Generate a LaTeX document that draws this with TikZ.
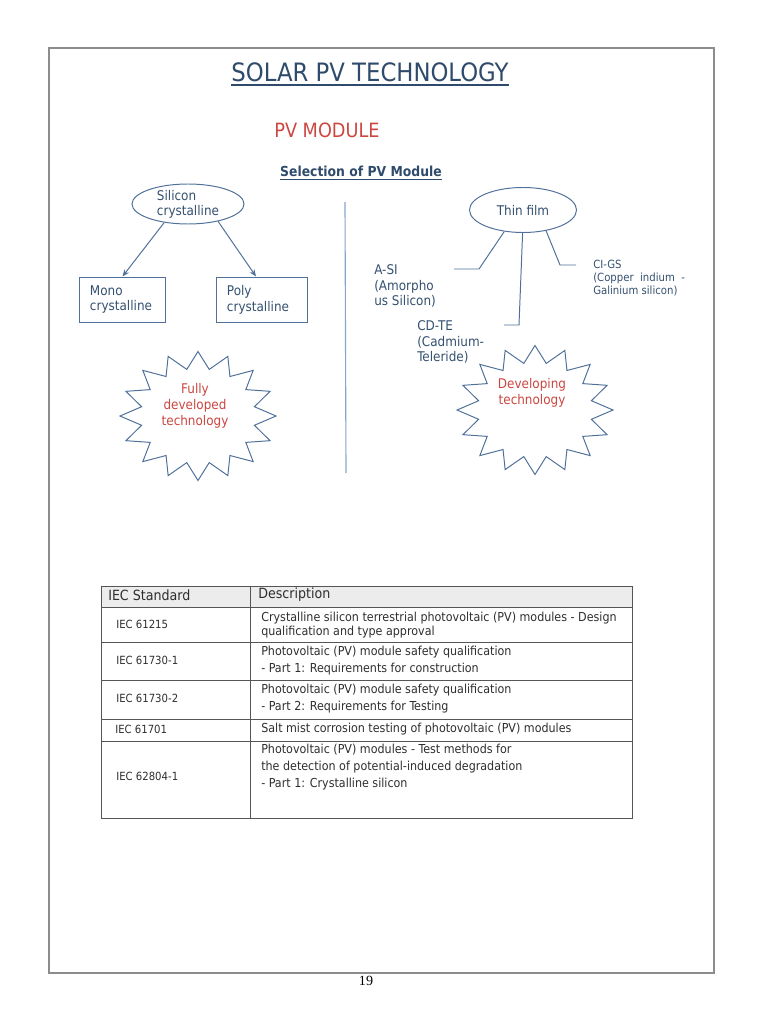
\documentclass[tikz,border=0pt]{standalone}
\usepackage{fontspec}
\setmainfont{DejaVu Sans Condensed}
\newfontfamily\numfont{Liberation Serif}
\usepackage{tikz}
\usetikzlibrary{arrows.meta,shapes.geometric}
\definecolor{bleutitre}{HTML}{2F4B6B}
\definecolor{bleutexte}{HTML}{34506F}
\definecolor{bleutrait}{HTML}{4F7099}
\definecolor{bleuclair}{HTML}{86A5CC}
\definecolor{rouge}{HTML}{CC4640}
\definecolor{gristrait}{HTML}{8C8C8C}
\definecolor{gristab}{HTML}{555555}
\definecolor{grisfond}{HTML}{ECECEC}
\definecolor{gristexte}{HTML}{2E2E2E}

\begin{document}
\begin{tikzpicture}[x=0.025cm,y=-0.025cm,ovale/.style={draw=bleutrait,line width=0.7pt,ellipse,text=bleutexte,align=left,font=\fontsize{9.5}{10.6}\selectfont,inner sep=0pt},boite/.style={draw=bleutrait,line width=0.7pt,text=bleutexte,align=left,font=\fontsize{9.5}{11.2}\selectfont,minimum height=1.125cm,inner xsep=0.25cm,inner ysep=0.1cm},etiq/.style={text=bleutexte,align=left,anchor=west,inner sep=0pt,font=\fontsize{9.5}{11.2}\selectfont},petit/.style={etiq,font=\fontsize{8}{9.3}\selectfont},etoile/.style={draw=bleutrait,line width=0.7pt},rougetxt/.style={text=rouge,align=center,font=\fontsize{9.5}{11.4}\selectfont},fleche/.style={draw=bleutrait,line width=0.7pt,-{Stealth[length=5pt,width=4pt]}},branche/.style={draw=bleutrait,line width=0.7pt},cellule/.style={anchor=west,inner sep=0pt,text=gristexte,align=left,font=\fontsize{8.8}{12}\selectfont},code/.style={anchor=west,inner sep=0pt,text=gristexte,font=\fontsize{8}{10}\selectfont},entete/.style={anchor=west,inner sep=0pt,text=gristexte,font=\fontsize{10}{12}\selectfont},trait/.style={draw=gristab,line width=0.6pt}]
\useasboundingbox (0,0) rectangle (768,1024);
\draw[gristrait,line width=0.9pt] (49,48) rectangle (714,973);
\node[text=bleutitre,font=\fontsize{18}{21}\selectfont,inner sep=0pt,anchor=base] (titre) at (370,82) {SOLAR PV TECHNOLOGY};
\draw[bleutitre,line width=1.4pt] ([yshift=-2.2pt]titre.base west) -- ([yshift=-2.2pt]titre.base east);
\node[text=rouge,font=\fontsize{14}{16}\selectfont,inner sep=0pt,anchor=base] (module) at (327,138) {PV MODULE};
\node[text=bleutitre,font=\bfseries\fontsize{9.8}{12}\selectfont,inner sep=0pt,anchor=base] (selection) at (361,177) {Selection of PV Module};
\draw[bleutitre,line width=0.9pt] ([yshift=-1.6pt]selection.base west) -- ([yshift=-1.6pt]selection.base east);
\node[ovale,minimum width=2.8cm,minimum height=1cm] (silicium) at (188,204) {Silicon\\crystalline};
\node[boite,minimum width=2.125cm,text width=1.625cm] (mono) at (122.5,299.5) {Mono\\crystalline};
\node[boite,minimum width=2.25cm,text width=1.75cm] (poly) at (262,299.5) {Poly\\crystalline};
\draw[fleche] (silicium.-142) -- (mono.north);
\draw[fleche] (silicium.-30) -- ([xshift=-0.15cm]poly.north);
\begin{scope}[shift={(198,416)}]
\draw[etoile] (90:78 and 64.5) \foreach \k in {1,...,16}{-- ({78.75+22.5*\k}:57.5 and 47.5) -- ({90+22.5*\k}:78 and 64.5)} -- cycle;
\end{scope}
\node[rougetxt] (fully) at (195,406) {Fully\\developed\\technology};
\draw[bleuclair,line width=0.8pt] (345,202) -- (346,473);
\node[ovale,minimum width=2.675cm,minimum height=1.125cm] (couche) at (523,210) {Thin film};
\coordinate (finasi) at (454,269);
\coordinate (fincdte) at (504,325);
\coordinate (fincigs) at (576,265);
\draw[branche] (couche.-131) -- (479,269) -- (finasi);
\draw[branche] (couche.-91) -- (519,325) -- (fincdte);
\draw[branche] (couche.-42) -- (560,265) -- (fincigs);
\node[etiq] (asi) at (374,286) {A-SI\\(Amorpho\\us Silicon)};
\node[etiq] (cdte) at (417,342) {CD-TE\\(Cadmium-\\Teleride)};
\node[petit] (cigs) at (593,278) {CI-GS\\(Copper\ \ indium\ \ -\\Galinium silicon)};
\begin{scope}[shift={(535,410)}]
\draw[etoile] (90:78 and 64.5) \foreach \k in {1,...,16}{-- ({78.75+22.5*\k}:57.5 and 47.5) -- ({90+22.5*\k}:78 and 64.5)} -- cycle;
\end{scope}
\node[rougetxt] (devel) at (532,393) {Developing\\technology};
\fill[grisfond] (101,586) rectangle (632,607);
\draw[trait] (101,586) rectangle (632,818);
\foreach \y in {607,642,680,719,741} \draw[trait] (101,\y) -- (632,\y);
\draw[trait] (250,586) -- (250,818);
\node[entete] (h1) at (108,595) {IEC Standard};
\node[entete] (h2) at (258,595) {Description};
\node[code] (n1) at (116,624) {IEC 61215};
\node[code] (n2) at (116,660) {IEC 61730-1};
\node[code] (n3) at (116,698) {IEC 61730-2};
\node[code] (n4) at (115,729) {IEC 61701};
\node[code] (n5) at (116,776) {IEC 62804-1};
\node[cellule,font=\fontsize{8.8}{10.2}\selectfont] (d1) at (261,625) {Crystalline silicon terrestrial photovoltaic (PV) modules - Design\\qualification and type approval};
\node[cellule] (d2) at (261,660.5) {Photovoltaic (PV) module safety qualification\\- Part 1: Requirements for construction};
\node[cellule] (d3) at (261,698.5) {Photovoltaic (PV) module safety qualification\\- Part 2: Requirements for Testing};
\node[cellule] (d4) at (261,729) {Salt mist corrosion testing of photovoltaic (PV) modules};
\node[cellule] (d5) at (261,767) {Photovoltaic (PV) modules - Test methods for\\the detection of potential-induced degradation\\- Part 1: Crystalline silicon};
\node[font=\numfont\fontsize{10}{12}\selectfont] (page) at (366,981) {19};
\end{tikzpicture}
\end{document}
